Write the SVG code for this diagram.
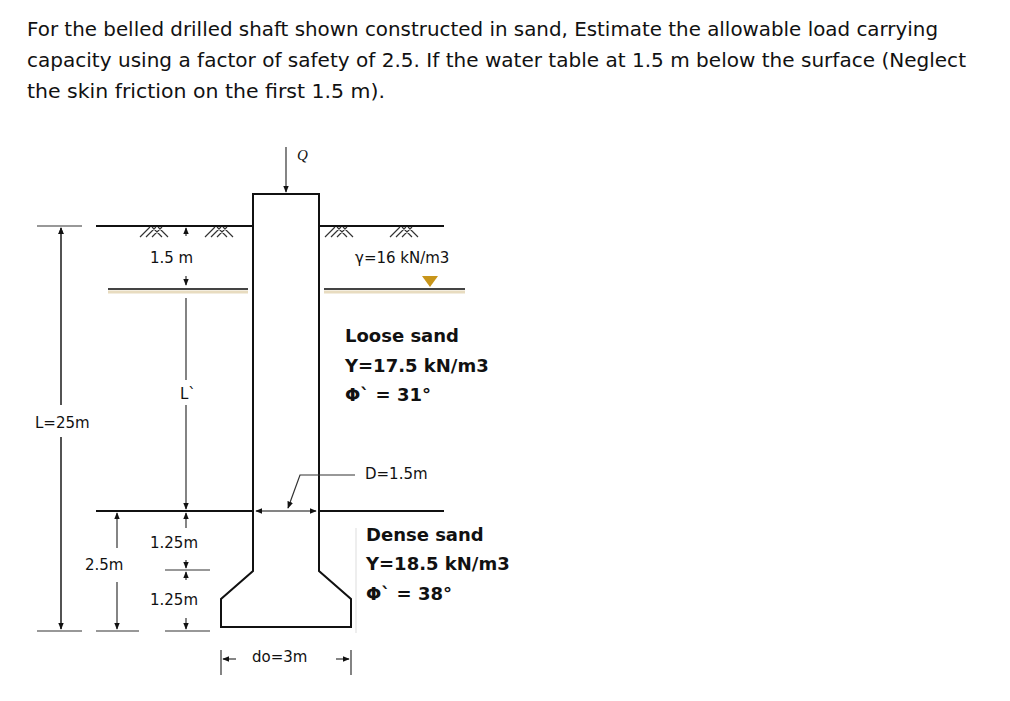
<svg xmlns="http://www.w3.org/2000/svg" width="1010" height="701" viewBox="0 0 1010 701">
<style>
.t{font-family:"DejaVu Sans",Verdana,sans-serif;fill:#111}
.h{font-size:19px}
.s{font-size:15px}
.b{font-size:18px;font-weight:bold}
.l{stroke:#111;stroke-width:2;fill:none}
.th{stroke:#333;stroke-width:1.2;fill:none}
</style>
<defs>
<marker id="a" viewBox="0 0 10 10" refX="9" refY="5" markerWidth="6" markerHeight="6" orient="auto-start-reverse"><path d="M0,1L10,5L0,9z" fill="#111"/></marker>
</defs>
<rect width="1010" height="701" fill="#fff"/>
<g id="title" class="t h">
<text x="27" y="36" textLength="911" lengthAdjust="spacingAndGlyphs">For the belled drilled shaft shown constructed in sand, Estimate the allowable load carrying</text>
<text x="27" y="67" textLength="939" lengthAdjust="spacingAndGlyphs">capacity using a factor of safety of 2.5. If the water table at 1.5 m below the surface (Neglect</text>
<text x="27" y="98" textLength="358" lengthAdjust="spacingAndGlyphs">the skin friction on the first 1.5 m).</text>
</g>
<g id="shaft">
<path class="l" d="M253,571V194H319V571L351,599V627H221V599Z" fill="#fff"/>
</g>
<g id="ground">
<path class="l" d="M96,226H253M319,226H444M96,511H253M319,511H444"/>
<g class="th">
<path d="M140,237l10,-10m-4,10l10,-10m-4,10l10,-10m0,10l-10,-10m16,10l-10,-10"/>
<path d="M205,237l10,-10m-4,10l10,-10m-4,10l10,-10m0,10l-10,-10m16,10l-10,-10"/>
<path d="M325,237l10,-10m-4,10l10,-10m-4,10l10,-10m0,10l-10,-10m16,10l-10,-10"/>
<path d="M390,237l10,-10m-4,10l10,-10m-4,10l10,-10m0,10l-10,-10m16,10l-10,-10"/>
</g>
<path d="M108,289H248M324,289H465" stroke="#444" stroke-width="2"/>
<path d="M108,292H248M324,292H465" stroke="#e8dcc0" stroke-width="3"/>
<path d="M422,276H438L430,287Z" fill="#c8951a"/>
<path d="M356,528V633" stroke="#ddd" stroke-width="1"/>
</g>
<g id="connectors">
<path class="th" d="M286,147V192" marker-end="url(#a)"/>
<path class="th" d="M37,226H82M37,631H82M96,631H139M165,631H210M165,570H210"/>
<path class="th" d="M61,228V405M61,437V629" marker-start="url(#a)"/>
<path class="th" d="M61,405V228" marker-end="url(#a)"/>
<path class="th" d="M61,437V629" marker-end="url(#a)"/>
<path class="th" d="M186,228V236" marker-start="url(#a)"/>
<path class="th" d="M186,276V285" marker-end="url(#a)"/>
<path class="th" d="M186,298V380M186,405V509" marker-end="url(#a)"/>
<path class="th" d="M186,528V513" marker-end="url(#a)"/>
<path class="th" d="M186,560V568" marker-end="url(#a)"/>
<path class="th" d="M186,580V572" marker-end="url(#a)"/>
<path class="th" d="M186,618V629" marker-end="url(#a)"/>
<path class="th" d="M117,548V513" marker-end="url(#a)"/>
<path class="th" d="M117,582V629" marker-end="url(#a)"/>
<path class="th" d="M221,650V675M351,650V675"/>
<path class="th" d="M236,659H223" marker-end="url(#a)"/>
<path class="th" d="M336,659H349" marker-end="url(#a)"/>
<path class="th" d="M286,511H256" marker-end="url(#a)"/>
<path class="th" d="M286,511H316" marker-end="url(#a)"/>
<path class="th" d="M355,475H300L288,508" marker-end="url(#a)"/>
</g>
<g id="labels" class="t">
<text x="297" y="160" class="s" font-style="italic" font-family="Liberation Serif,serif">Q</text>
<text x="150" y="263" class="s">1.5 m</text>
<text x="355" y="263" class="s">γ=16 kN/m3</text>
<text x="345" y="342" class="b">Loose sand</text>
<text x="345" y="372" class="b">Υ=17.5 kN/m3</text>
<text x="345" y="401" class="b">Φ` = 31°</text>
<text x="180" y="399" class="s">L`</text>
<text x="35" y="428" class="s">L=25m</text>
<text x="365" y="479" class="s">D=1.5m</text>
<text x="366" y="541" class="b">Dense sand</text>
<text x="366" y="570" class="b">Υ=18.5 kN/m3</text>
<text x="366" y="600" class="b">Φ` = 38°</text>
<text x="150" y="548" class="s">1.25m</text>
<text x="85" y="570" class="s">2.5m</text>
<text x="150" y="605" class="s">1.25m</text>
<text x="252" y="662" class="s">do=3m</text>
</g>
</svg>
